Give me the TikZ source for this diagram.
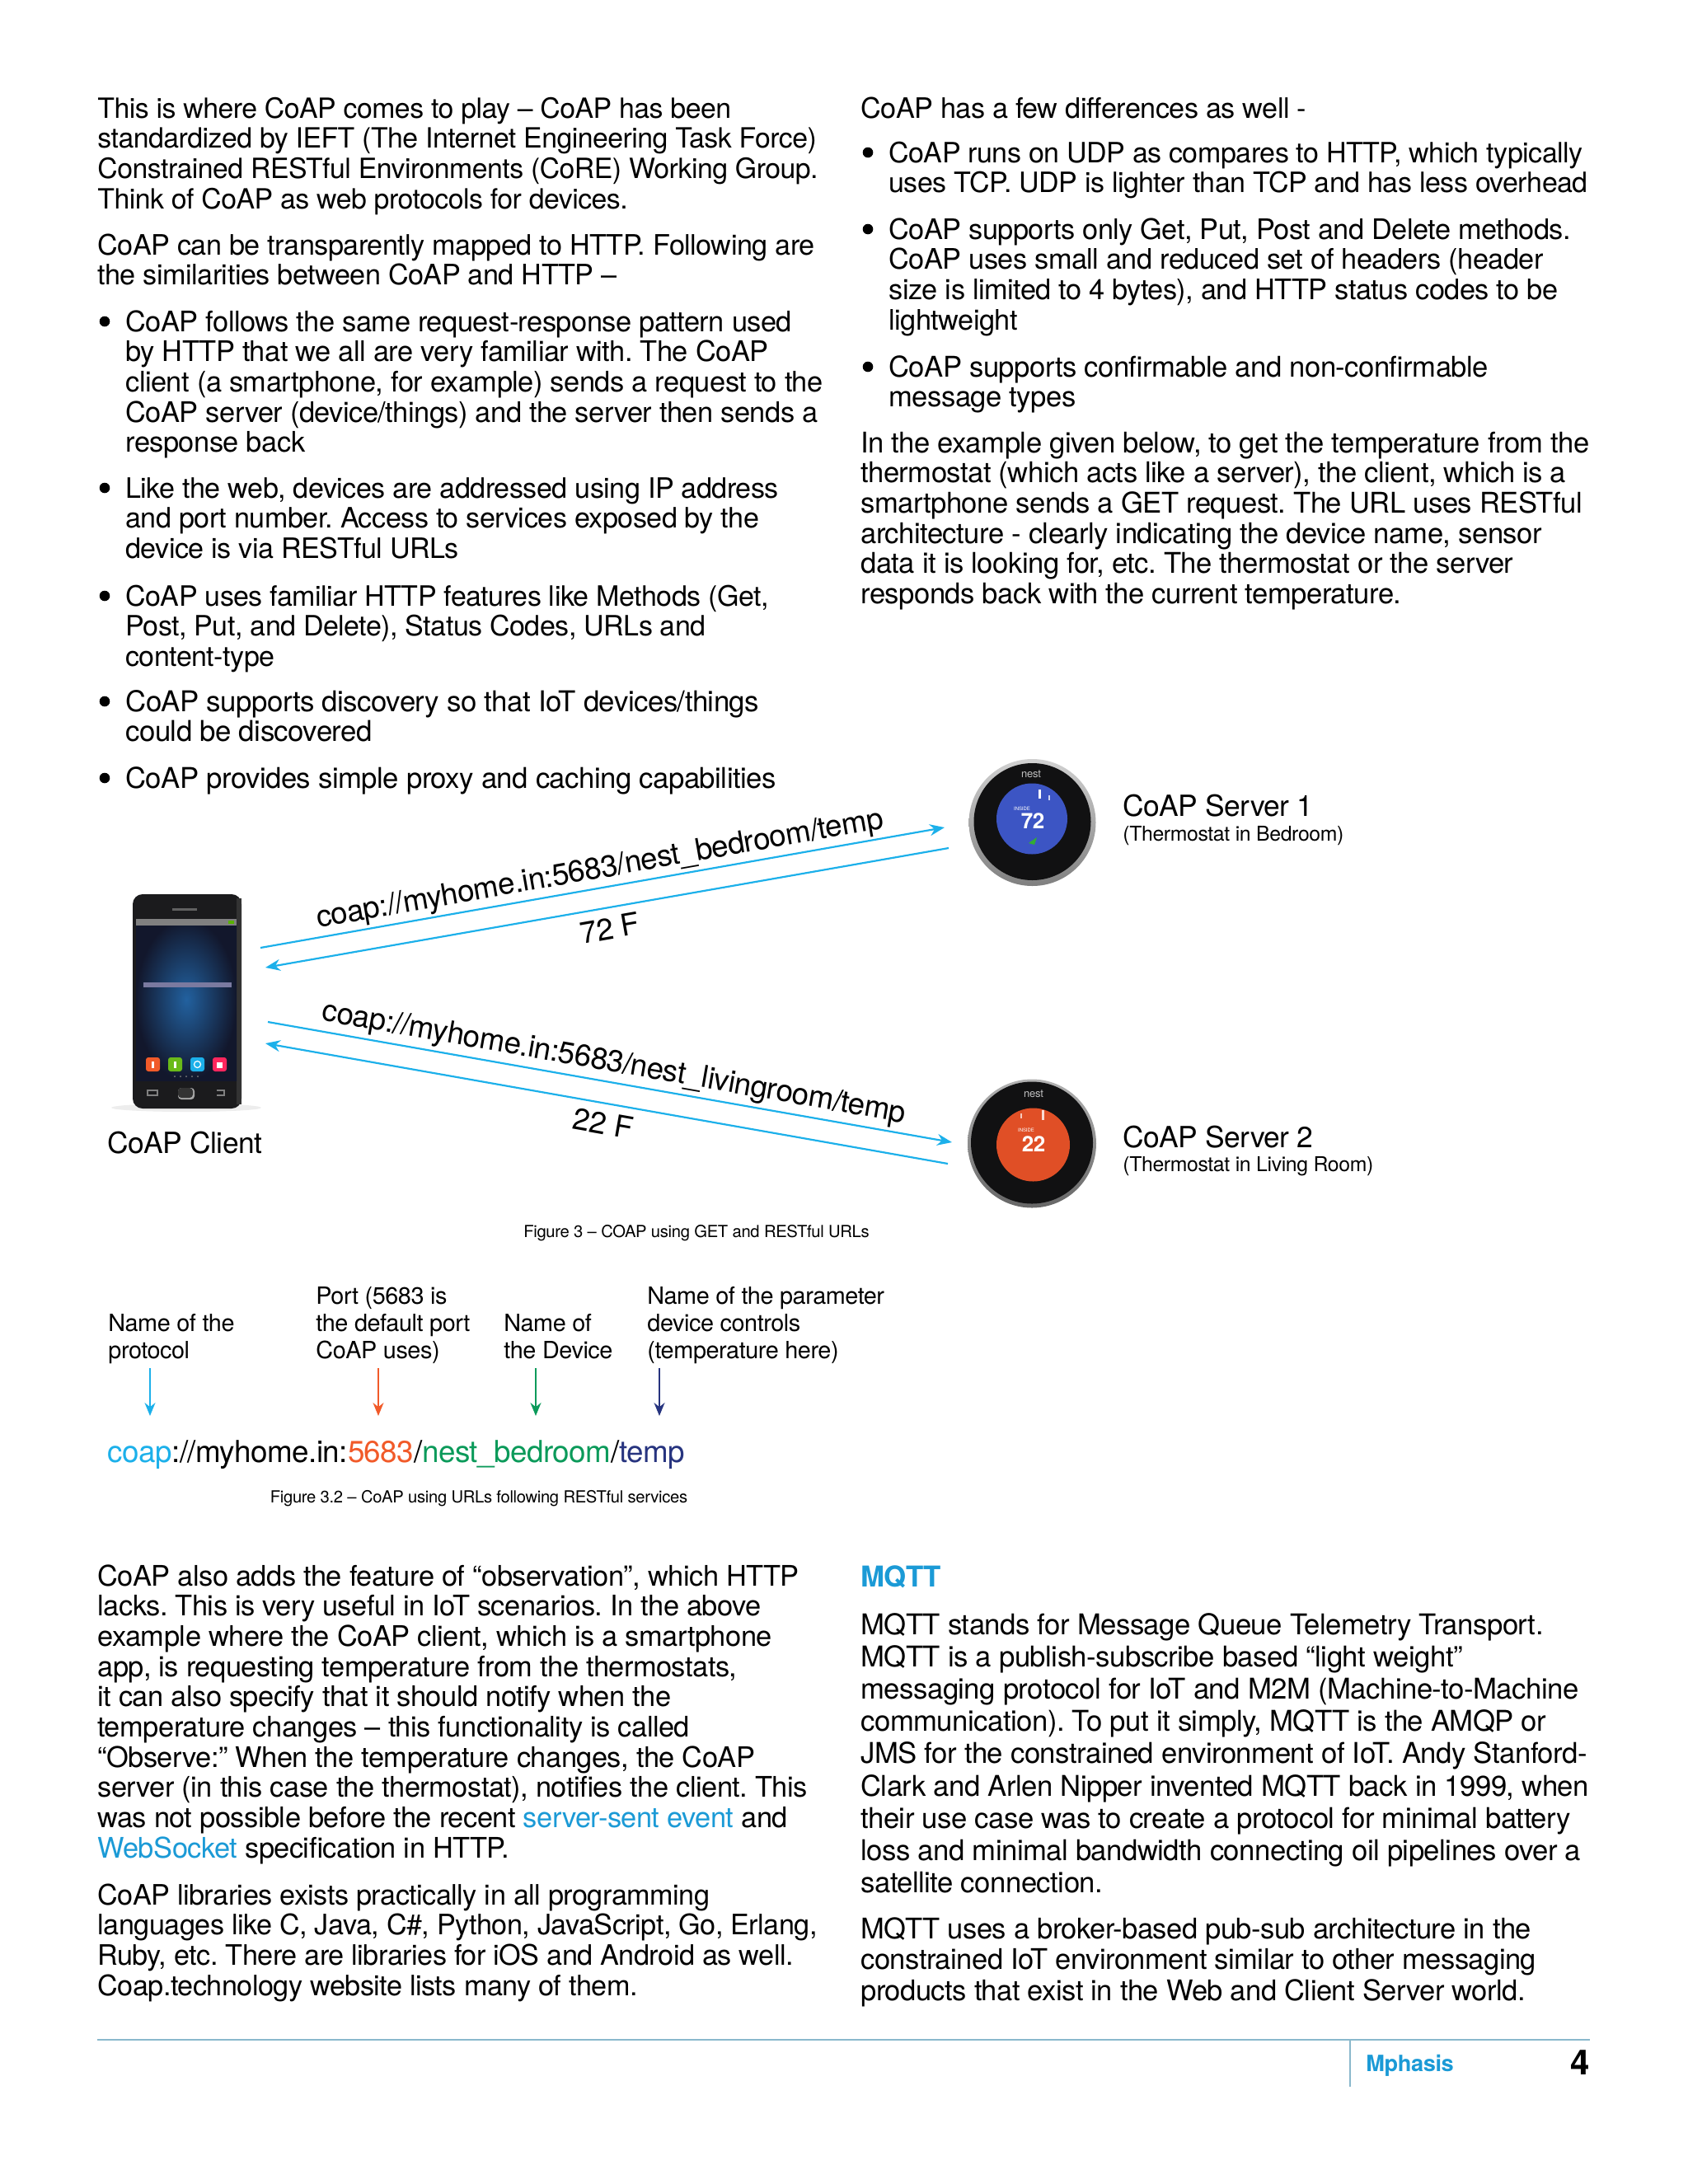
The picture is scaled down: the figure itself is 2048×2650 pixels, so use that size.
\documentclass[tikz,border=0pt]{standalone}
\usepackage{fontspec}
\setmainfont[LetterSpace=-1.5]{TeX Gyre Heros}
\usetikzlibrary{arrows.meta,shapes.geometric}
\definecolor{linkblue}{HTML}{1B9AD6}
\definecolor{arrowcyan}{HTML}{1CB0EA}
\definecolor{urlorange}{HTML}{F15A29}
\definecolor{urlgreen}{HTML}{0B9A5A}
\definecolor{urlnavy}{HTML}{27347F}
\definecolor{rulecol}{HTML}{8AB8CC}
\definecolor{nestblack}{HTML}{111112}
\definecolor{nestblue}{HTML}{3C55C4}
\definecolor{nestorange}{HTML}{E04F26}
\definecolor{phonebody}{HTML}{1B1B1D}
\definecolor{glowin}{HTML}{22619F}
\definecolor{glowout}{HTML}{12172C}
\newcommand{\tsz}{17}
\tikzset{
  txt/.style={anchor=base west,inner sep=0pt,font=\fontsize{\tsz}{18}\selectfont},
  lab/.style={anchor=base west,inner sep=0pt,font=\fontsize{14.4}{18}\selectfont},
  bigt/.style={anchor=base west,inner sep=0pt,font=\fontsize{17.7}{20}\selectfont},
  subt/.style={anchor=base west,inner sep=0pt,font=\fontsize{12.4}{15}\selectfont},
  figcap/.style={anchor=base,inner sep=0pt,font=\fontsize{10.1}{12}\selectfont},
  urltxt/.style={inner sep=0pt,font=\fontsize{18.4}{20}\selectfont},
  wire/.style={draw=arrowcyan,line width=1.1pt},
  wiretip/.style={-{Stealth[length=9pt,width=7pt]}},
  smalltip/.style={-{Stealth[length=8pt,width=6.5pt]},line width=0.9pt},
  appicon/.style={rounded corners=1.5pt},
  tinytxt/.style={inner sep=0pt,text=white!80,font=\fontsize{3}{4}\selectfont},
  nestlabel/.style={inner sep=0pt,text=black!25,font=\fontsize{6.5}{7}\selectfont},
  nestnum/.style={inner sep=0pt,text=white,font=\fontsize{13}{15}\bfseries\selectfont},
}
\newcommand{\para}[6][36.7]{%
  \renewcommand{\tsz}{#2}%
  \foreach \txtline [count=\ii from 0] in {#6}
    \node[txt] (#3-\ii) at (#4,{#5+\ii*#1}) {\txtline};}
\newcommand{\bul}[3]{\node[circle,fill=black,inner sep=0pt,minimum size=6.3pt] (#1) at (#2,#3) {};}
\begin{document}
\frenchspacing
\begin{tikzpicture}[x=0.5pt,y=-0.5pt]
\useasboundingbox (0,0) rectangle (2048,2650);
% left column
\para{16.9}{a}{118}{143}{{This is where CoAP comes to play – CoAP has been},{standardized by IEFT (The Internet Engineering Task Force)},{Constrained RESTful Environments (CoRE) Working Group.},{Think of CoAP as web protocols for devices.}}
\para{17.1}{b}{118}{309}{{CoAP can be transparently mapped to HTTP. Following are},{the similarities between CoAP and HTTP –}}
\bul{ba}{127}{390}
\para{17.2}{c}{152}{402}{{CoAP follows the same request-response pattern used},{by HTTP that we all are very familiar with. The CoAP},{client (a smartphone, for example) sends a request to the},{CoAP server (device/things) and the server then sends a},{response back}}
\bul{bb}{127}{592}
\para{17.05}{d}{152}{604}{{Like the web, devices are addressed using IP address},{and port number. Access to services exposed by the},{device is via RESTful URLs}}
\bul{bc}{127}{723}
\para{17}{e}{152}{735}{{CoAP uses familiar HTTP features like Methods (Get,},{Post, Put, and Delete), Status Codes, URLs and},{content-type}}
\bul{bd}{127}{851}
\para{17.4}{f}{152}{863}{{CoAP supports discovery so that IoT devices/things},{could be discovered}}
\bul{be}{127}{944}
\para{17.35}{g}{152}{956}{{CoAP provides simple proxy and caching capabilities}}
% right column
\para{17.1}{h}{1044}{143}{{CoAP has a few differences as well -}}
\bul{bf}{1053}{185}
\para{17}{i}{1078}{197}{{CoAP runs on UDP as compares to HTTP, which typically},{uses TCP. UDP is lighter than TCP and has less overhead}}
\bul{bg}{1053}{278}
\para{17.15}{j}{1078}{290}{{CoAP supports only Get, Put, Post and Delete methods.},{CoAP uses small and reduced set of headers (header},{size is limited to 4 bytes), and HTTP status codes to be},{lightweight}}
\bul{bh}{1053}{445}
\para{17.3}{k}{1078}{457}{{CoAP supports confirmable and non-confirmable},{message types}}
\para{17.3}{l}{1044}{549}{{In the example given below, to get the temperature from the},{thermostat (which acts like a server), the client, which is a},{smartphone sends a GET request. The URL uses RESTful},{architecture - clearly indicating the device name, sensor},{data it is looking for, etc. The thermostat or the server},{responds back with the current temperature.}}
% phone
\fill[black!7] (226,1344) ellipse (91 and 5);
\fill[phonebody,rounded corners=6pt] (161,1085) rectangle (293,1345);
\fill[black!80!white] (287,1090) rectangle (293,1340);
\shade[inner color=glowin,outer color=glowout] (165,1115) rectangle (287,1311);
\fill[black!50] (165,1115) rectangle (287,1123);
\fill[green!50!yellow!70!black] (277,1117) rectangle (284,1121);
\fill[blue!25!gray!70!white!85!black] (174,1192) rectangle (281,1198);
\fill[black!62] (209,1102) rectangle (239,1104.5);
\fill[urlorange,appicon] (177,1283) rectangle (194,1300);
\fill[green!50!yellow!70!black!90,appicon] (204,1283) rectangle (221,1300);
\fill[arrowcyan,appicon] (231,1283) rectangle (248,1300);
\fill[red!75!magenta!85,appicon] (258,1283) rectangle (275,1300);
\fill[white] (184,1288) rectangle (187,1296);
\fill[white] (211,1288) rectangle (214,1296);
\draw[white,line width=0.6pt] (239.5,1291.5) circle (4);
\fill[white] (263,1289) rectangle (270,1296);
\foreach \dotx in {212,219,226,233,240} \fill[black!50] (\dotx,1306) circle (1);
\fill[black!35,rounded corners=2pt] (216,1320) rectangle (236,1334);
\fill[black!80,rounded corners=2pt] (216,1320) rectangle (234,1332);
\draw[black!50,line width=0.6pt] (179,1323) rectangle (191,1329);
\draw[black!50,line width=0.6pt] (263,1323) -- (272,1323) -- (272,1329) -- (263,1329);
\node[bigt] (client) at (130,1399) {CoAP Client};
% thermostats
\shade[top color=black!18,bottom color=black!50] (1252.5,998) circle (77);
\node[circle,fill=nestblack,minimum size=71pt,inner sep=0pt] (s1) at (1252.5,997) {};
\node[circle,fill=nestblue,minimum size=43pt,inner sep=0pt] (d1) at (1252,993.5) {};
\node[nestnum] (num1) at (1253,996) {72};
\node[nestlabel] (n1) at (1251,939) {nest};
\node[tinytxt] (i1) at (1240,981) {INSIDE};
\fill[green!60!black!80] (1248,1023) -- (1258,1016) -- (1255,1025) -- cycle;
\fill[white] (1260,958) rectangle +(2.5,11);
\fill[white!75!nestblue] (1272,965) rectangle +(2,6);
\shade[top color=black!30,bottom color=black!60] (1252,1387.5) circle (78);
\node[circle,fill=nestblack,minimum size=74pt,inner sep=0pt] (s2) at (1252,1386.5) {};
\node[circle,fill=nestorange,minimum size=44.5pt,inner sep=0pt] (d2) at (1253.5,1389) {};
\node[nestnum] (num2) at (1254,1388) {22};
\node[nestlabel] (n2) at (1254,1327) {nest};
\node[tinytxt] (i2) at (1245,1371) {INSIDE};
\fill[white!80!nestorange] (1264,1347) rectangle +(2.5,12);
\fill[white!70!nestorange] (1238,1351) rectangle +(2,6);
\node[bigt] (s1t) at (1362,990) {CoAP Server 1};
\node[subt] (s1s) at (1362,1020) {(Thermostat in Bedroom)};
\node[bigt] (s2t) at (1362,1392) {CoAP Server 2};
\node[subt] (s2s) at (1362,1421) {(Thermostat in Living Room)};
% connectors
\coordinate (c1a) at (316,1150); \coordinate (c1b) at (1146,1004);
\coordinate (c2a) at (1151,1029); \coordinate (c2b) at (322,1174);
\coordinate (c3a) at (325,1240); \coordinate (c3b) at (1155,1386);
\coordinate (c4a) at (1150,1412); \coordinate (c4b) at (322,1266);
\draw[wire,wiretip] (c1a) -- (c1b);
\draw[wire,wiretip] (c2a) -- (c2b);
\draw[wire,wiretip] (c3a) -- (c3b);
\draw[wire,wiretip] (c4a) -- (c4b);
\node[urltxt,rotate=10] (u1) at (728,1056) {coap://myhome.in:5683/nest\_bedroom/temp};
\node[urltxt,rotate=10] (v1) at (740,1126) {72 F};
\node[urltxt,rotate=-10] (u2) at (745,1291) {coap://myhome.in:5683/nest\_livingroom/temp};
\node[urltxt,rotate=-10] (v2) at (732,1363) {22 F};
\node[figcap] (fig3) at (845,1501) {Figure 3 – COAP using GET and RESTful URLs};
% url figure
\node[lab] (la) at (131,1615) {Name of the};
\node[lab] (la2) at (131,1648) {protocol};
\node[lab] (lb0) at (383,1582) {Port (5683 is};
\node[lab] (lb) at (383,1615) {the default port};
\node[lab] (lb2) at (383,1648) {CoAP uses)};
\node[lab] (lc) at (611,1615) {Name of};
\node[lab] (lc2) at (611,1648) {the Device};
\node[lab] (ld0) at (785,1582) {Name of the parameter};
\node[lab] (ld) at (785,1615) {device controls};
\node[lab] (ld2) at (785,1648) {(temperature here)};
\coordinate (fa) at (182,1660); \coordinate (ta) at (182,1718);
\coordinate (fb) at (459,1660); \coordinate (tb) at (459,1718);
\coordinate (fc) at (650,1660); \coordinate (tc) at (650,1718);
\coordinate (fd) at (800,1660); \coordinate (td) at (800,1718);
\draw[smalltip,arrowcyan] (fa) -- (ta);
\draw[smalltip,urlorange] (fb) -- (tb);
\draw[smalltip,urlgreen] (fc) -- (tc);
\draw[smalltip,urlnavy] (fd) -- (td);
\node[urltxt,anchor=base west] (url) at (130,1774) {\textcolor{arrowcyan}{coap}://myhome.in:\textcolor{urlorange}{5683}/\textcolor{urlgreen}{nest\_bedroom}/\textcolor{urlnavy}{temp}};
\node[figcap] (fig32) at (581,1823) {Figure 3.2 – CoAP using URLs following RESTful services};
% lower left
\para{17.2}{m}{118}{1924}{{CoAP also adds the feature of “observation”, which HTTP},{lacks. This is very useful in IoT scenarios. In the above},{example where the CoAP client, which is a smartphone},{app, is requesting temperature from the thermostats,},{it can also specify that it should notify when the},{temperature changes – this functionality is called},{“Observe:” When the temperature changes, the CoAP},{server (in this case the thermostat), notifies the client. This},{was not possible before the recent \textcolor{linkblue}{server-sent event} and},{\textcolor{linkblue}{WebSocket} specification in HTTP.}}
\para{17.1}{n}{118}{2311}{{CoAP libraries exists practically in all programming},{languages like C, Java, C\#, Python, JavaScript, Go, Erlang,},{Ruby, etc. There are libraries for iOS and Android as well.},{Coap.technology website lists many of them.}}
% lower right
\node[anchor=base west,inner sep=0pt,text=linkblue,font=\fontsize{17.4}{18}\bfseries\selectfont] (mq) at (1044,1925) {MQTT};
\para[39.2]{17.35}{o}{1044}{1983}{{MQTT stands for Message Queue Telemetry Transport.},{MQTT is a publish-subscribe based “light weight”},{messaging protocol for IoT and M2M (Machine-to-Machine},{communication). To put it simply, MQTT is the AMQP or},{JMS for the constrained environment of IoT. Andy Stanford-},{Clark and Arlen Nipper invented MQTT back in 1999, when},{their use case was to create a protocol for minimal battery},{loss and minimal bandwidth connecting oil pipelines over a},{satellite connection.}}
\para[37.5]{17.25}{p}{1044}{2352}{{MQTT uses a broker-based pub-sub architecture in the},{constrained IoT environment similar to other messaging},{products that exist in the Web and Client Server world.}}
% footer
\coordinate (ra) at (118,2475); \coordinate (rb) at (1929,2475);
\coordinate (rc) at (1638,2475); \coordinate (rd) at (1638,2532);
\draw[rulecol,line width=0.8pt] (ra) -- (rb);
\draw[rulecol,line width=0.8pt] (rc) -- (rd);
\node[anchor=base west,inner sep=0pt,text=linkblue,font=\fontsize{13.6}{15}\bfseries\selectfont] (brand) at (1657,2513) {Mphasis};
\node[anchor=base east,inner sep=0pt,font=\fontsize{21}{22}\bfseries\selectfont] (pg) at (1929,2517) {4};
\end{tikzpicture}
\end{document}
